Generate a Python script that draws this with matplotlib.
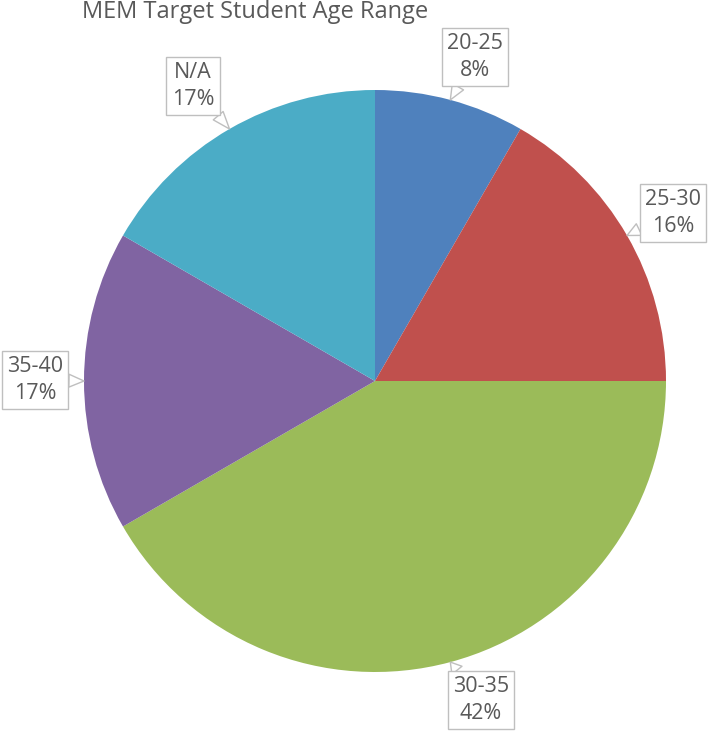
import numpy as np
import matplotlib
matplotlib.use("Agg")
import matplotlib.pyplot as plt

categories = ["20-25", "25-30", "30-35", "35-40", "N/A"]
values = [1, 2, 5, 2, 2]
pct_labels = ["8%", "16%", "42%", "17%", "17%"]
colors = ["#4F81BD", "#C0504D", "#9BBB59", "#8064A2", "#4BACC6"]
title = "MEM Target Student Age Range"

# label box centres (pixels, y from top)
label_pos = [(475, 57), (673, 213), (481, 700), (35, 380), (193, 86)]

W, H = 708, 733
fig = plt.figure(figsize=(W / 100, H / 100), dpi=100)
ax = fig.add_axes([0, 0, 1, 1])

cx, cy, r = 375, H - 381, 291
wedges, _ = ax.pie(values, colors=colors, startangle=90, counterclock=False,
                   center=(cx, cy), radius=r, frame=True,
                   wedgeprops=dict(linewidth=0))
ax.set_xlim(0, W)
ax.set_ylim(0, H)
ax.set_aspect("equal")
ax.axis("off")

txtc = "#595959"
for w, cat, pct, (lx, ly) in zip(wedges, categories, pct_labels, label_pos):
    mid = np.deg2rad((w.theta1 + w.theta2) / 2)
    px = cx + r * np.cos(mid)
    py = cy + r * np.sin(mid)
    ax.annotate(f"{cat}\n{pct}", xy=(px, py), xytext=(lx, H - ly),
                ha="center", va="center", fontsize=15.5, color=txtc,
                family="Open Sans", linespacing=1.35,
                bbox=dict(boxstyle="square,pad=0.25", fc="white", ec="#BFBFBF", lw=1),
                arrowprops=dict(arrowstyle="wedge,tail_width=0.6", fc="white",
                                ec="#BFBFBF", lw=1, shrinkA=0, shrinkB=0))

ax.text(255, H - 12, title, ha="center", va="center", fontsize=17,
        color=txtc, family="Open Sans")

fig.savefig("out.png", dpi=100)
